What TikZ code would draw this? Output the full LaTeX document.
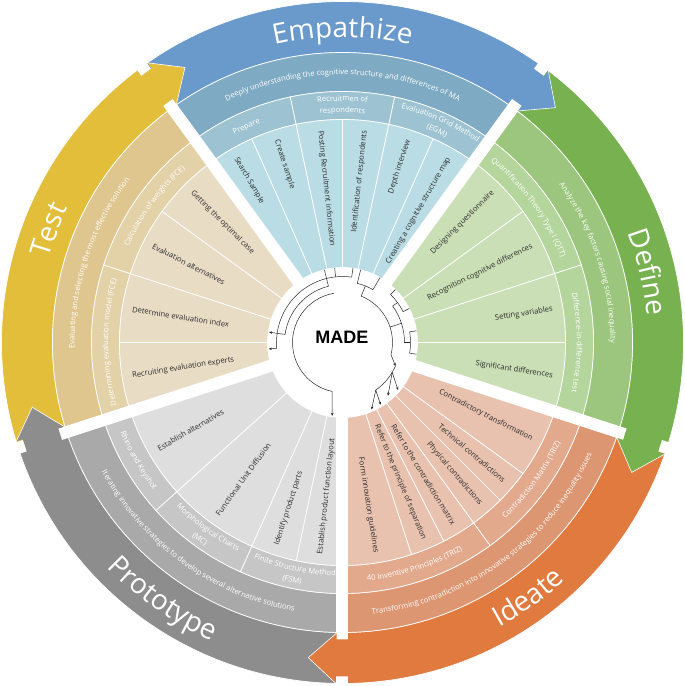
\documentclass[tikz,border=0pt]{standalone}
\usepackage{fontspec}
\setmainfont{Open Sans}
\newfontfamily\madefont{Liberation Sans}
\usetikzlibrary{decorations.text,arrows.meta}
\definecolor{E1}{HTML}{6A9ACB}\definecolor{E2}{HTML}{7EABC3}\definecolor{E3}{HTML}{9DC3D2}\definecolor{E4}{HTML}{B9DCE5}
\definecolor{D1}{HTML}{78B14F}\definecolor{D2}{HTML}{9CC67E}\definecolor{D3}{HTML}{B4D59C}\definecolor{D4}{HTML}{CADFB6}
\definecolor{I1}{HTML}{E07A3E}\definecolor{I2}{HTML}{DC9672}\definecolor{I3}{HTML}{E2A98D}\definecolor{I4}{HTML}{E8C2AF}
\definecolor{P1}{HTML}{8E8D8E}\definecolor{P2}{HTML}{AAA9AA}\definecolor{P3}{HTML}{C6C6C6}\definecolor{P4}{HTML}{DDDEDD}
\definecolor{T1}{HTML}{E3BE3B}\definecolor{T2}{HTML}{DFC68E}\definecolor{T3}{HTML}{E3D1A8}\definecolor{T4}{HTML}{E8DCC5}
\definecolor{celltxt}{HTML}{2B2B2B}
\tikzset{
  celltext/.style={font=\fontsize{7.6}{9}\selectfont, text=celltxt, inner sep=0pt},
  conn/.style={draw=black!85, line width=0.5pt},
  connarrow/.style={conn, -{Stealth[length=3pt,width=2.6pt]}},
}
\newcommand\ring[5]{\fill[#1,draw=white,line width=0.7pt] (#2:#4pt) arc[start angle=#2,end angle=#3,radius=#4pt] -- (#3:#5pt) arc[start angle=#3,end angle=#2,radius=#5pt] -- cycle;}
\newcommand\cellO[3]{\node[celltext,rotate=#1,anchor=east] (#2) at (#1:213pt) {#3};}
\newcommand\cellI[3]{\node[celltext,rotate=#1+180,anchor=west] (#2) at (#1:213pt) {#3};}
\newcommand\cwtext[5]{\path[decorate,decoration={text along path,text align=center,text={|#4|#5}}] (#1+#2:#3pt) arc[start angle=#1+#2,end angle=#1-#2,radius=#3pt];}
\newcommand\ccwtext[5]{\path[decorate,decoration={text along path,text align=center,text={|#4|#5}}] (#1-#2:#3pt) arc[start angle=#1-#2,end angle=#1+#2,radius=#3pt];}
\def\smw{\color{white}\fontsize{7.6}{9}\selectfont}
\def\bgw{\color{white}\fontsize{28}{30}\selectfont}
\newcommand\headarrow[2]{%
  \fill[#2] (#1+1.3:297pt) -- (#1-1.15:297pt) -- (#1-1.15:290.5pt) -- (#1-6.2:317pt) -- (#1-1.15:340.8pt) -- (#1-1.15:334pt) -- (#1+1.3:334pt) -- cycle;
  \draw[white,line width=0.6pt] (#1-1.15:290.5pt) -- (#1-6.2:317pt) -- (#1-1.15:340.8pt);}
\begin{document}
\begin{tikzpicture}[x=1pt,y=1pt]
\useasboundingbox (-342.5,-343.5) rectangle (342.5,342.5);
% arrow bands
\ring{E1}{126}{54}{290}{341}
\ring{D1}{54}{-18}{290}{341}
\ring{I1}{-18}{-90}{290}{341}
\ring{P1}{270}{198}{290}{341}
\ring{T1}{198}{126}{290}{341}
% description bands
\ring{E2}{126}{54}{251}{290}
\ring{D2}{54}{-18}{251}{290}
\ring{I2}{-18}{-90}{251}{290}
\ring{P2}{270}{198}{251}{290}
\ring{T2}{198}{126}{251}{290}
% method bands
\ring{E3}{126}{102}{223}{251}\ring{E3}{102}{78}{223}{251}\ring{E3}{78}{54}{223}{251}
\ring{D3}{54}{18}{223}{251}\ring{D3}{18}{-18}{223}{251}
\ring{I3}{-18}{-54}{223}{251}\ring{I3}{-54}{-90}{223}{251}
\ring{P3}{270}{246}{223}{251}\ring{P3}{246}{222}{223}{251}\ring{P3}{222}{198}{223}{251}
\ring{T3}{198}{162}{223}{251}\ring{T3}{162}{126}{223}{251}
% cells
\foreach \a/\b in {126/114,114/102,102/90,90/78,78/66,66/54}{\ring{E4}{\a}{\b}{75}{223}}
\foreach \a/\b in {54/36,36/18,18/0,0/-18}{\ring{D4}{\a}{\b}{75}{223}}
\foreach \a/\b in {-18/-36,-36/-45,-45/-54,-54/-63,-63/-72,-72/-90}{\ring{I4}{\a}{\b}{75}{223}}
\foreach \a/\b in {270/258,258/246,246/222,222/198}{\ring{P4}{\a}{\b}{75}{223}}
\foreach \a/\b in {198/180,180/162,162/144,144/126}{\ring{T4}{\a}{\b}{75}{223}}
% white gaps
\foreach \g in {126,54,-18,-90,198}{\draw[white,line width=12pt] (\g:72pt) -- (\g:345pt);}
% arrow heads
\headarrow{126}{T1}
\headarrow{54}{E1}
\headarrow{-18}{D1}
\headarrow{-90}{I1}
\headarrow{198}{P1}
% phase labels
\cwtext{90}{40}{305.5}{\bgw}{Empathize}
\cwtext{13}{40}{305.5}{\bgw}{Define}
\ccwtext{-54}{40}{325.5}{\bgw}{Ideate}
\ccwtext{235}{40}{325.5}{\bgw}{Prototype}
\cwtext{159}{40}{305.5}{\bgw}{Test}
% descriptions
\cwtext{90}{40}{267.8}{\smw}{Deeply understanding the cognitive structure and differences of MA}
\cwtext{18}{40}{267.8}{\smw}{Analyze the key factors causing social inequality}
\ccwtext{-54}{40}{273.2}{\smw}{Transforming contradiction into innovative strategies to reduce inequality issues}
\ccwtext{234}{40}{273.2}{\smw}{Iterating innovative strategies to develop several alternative solutions}
\cwtext{162}{40}{267.8}{\smw}{Evaluating and selecting the most effective solution}
% methods
\cwtext{114}{20}{234.3}{\smw}{Prepare}
\cwtext{90}{20}{241.5}{\smw}{Recruitmen of}
\cwtext{90}{20}{229.8}{\smw}{respondents}
\cwtext{66}{20}{241.5}{\smw}{Evaluation Grid Method}
\cwtext{66}{20}{229.8}{\smw}{(EGM)}
\cwtext{36}{30}{234.3}{\smw}{Quantification Theory Type I (QTT)}
\cwtext{0}{30}{234.3}{\smw}{Difference-in-difference test}
\ccwtext{-36}{30}{239.7}{\smw}{Contradiction Matrix (TRIZ)}
\ccwtext{-72}{30}{239.7}{\smw}{40 Inventive Principles (TRIZ)}
\ccwtext{258}{20}{233.3}{\smw}{Finite Structure Method}
\ccwtext{258}{20}{245.3}{\smw}{(FSM)}
\ccwtext{234}{20}{233.3}{\smw}{Morphological Charts}
\ccwtext{234}{20}{245.3}{\smw}{(MC)}
\ccwtext{210}{20}{239.7}{\smw}{Rhino and Keyshot}
\cwtext{180}{30}{234.3}{\smw}{Determining evaluation model (FCE)}
\cwtext{144}{30}{234.3}{\smw}{Calculation of weights (FCE)}
% cell texts
\cellI{120}{e1}{Search Sample}
\cellI{108}{e2}{Create sample}
\cellI{96}{e3}{Posting Recruitment information}
\cellO{84}{e4}{Identification of respondents}
\cellO{72}{e5}{Depth interview}
\cellO{60}{e6}{Creating a cognitive structure map}
\cellO{45}{d1}{Designing questionnaire}
\cellO{27}{d2}{Recognition cognitive differences}
\cellO{9}{d3}{Setting variables}
\cellO{-9}{d4}{Significant differences}
\cellO{-27}{i1}{Contradictory transformation}
\cellO{-40.5}{i2}{Technical contradictions}
\cellO{-49.5}{i3}{Physical contradictions}
\cellO{-58.5}{i4}{Refer to the contradiction matrix}
\cellO{-67.5}{i5}{Refer to the principle of separation}
\cellO{-81}{i6}{Form innovation guidelines}
\cellI{264}{p1}{Establish product function layout}
\cellI{252}{p2}{Identify product parts}
\cellI{234}{p3}{Functional Unit Diffusion}
\cellI{210}{p4}{Establish alternatives}
\cellI{189}{t1}{Recruiting evaluation experts}
\cellI{171}{t2}{Determine evaluation index}
\cellI{153}{t3}{Evaluation alternatives}
\cellI{135}{t4}{Getting the optimal case}
% centre
\node[font=\madefont\bfseries\fontsize{18}{18}\selectfont, inner sep=0pt] (made) at (-0.5,5.5) {MADE};
% Empathize brackets
\draw[conn] (104:75pt) -- (104:58pt);
\draw[conn] (96:75pt) -- (96:66pt);
\draw[conn] (112:66pt) arc[start angle=112,end angle=82,radius=66pt];
\draw[conn] (82:66pt) -- (82:75pt);
\draw[conn] (76:75pt) -- (76:61pt) arc[start angle=76,end angle=60,radius=61pt] -- (60:75pt);
\draw[conn] (68:61pt) -- (68:50pt);
% Empathize -> Test
\draw[connarrow] (104:58pt) arc[start angle=104,end angle=172,radius=58pt] -- (172:74pt);
\draw[connarrow] (112:66pt) arc[start angle=112,end angle=185,radius=66pt] -- (185:74pt);
% circle arcs
\draw[conn] (100:50pt) arc[start angle=100,end angle=258,radius=50pt];
\draw[connarrow] (258:50pt) -- (262:74pt);
\draw[conn] (68:50pt) arc[start angle=68,end angle=-14,radius=50pt];
\draw[connarrow] (-14:50pt) -- (-24:58pt);
% Define brackets
\draw[conn] (45:75pt) -- (45:68pt) arc[start angle=45,end angle=27,radius=68pt] -- (27:75pt);
\draw[conn] (36:68pt) -- (36:62pt) arc[start angle=36,end angle=0,radius=62pt];
\draw[conn] (9:75pt) -- (9:68pt) arc[start angle=9,end angle=-9,radius=68pt] -- (-9:75pt);
\draw[conn] (0:68pt) -- (0:62pt);
\draw[conn] (18:62pt) -- (18:50pt);
% Ideate arrows
\draw[conn] (-24:58pt) -- (-31:58pt);
\draw[connarrow] (-31:58pt) -- (-40.5:73pt);
\draw[connarrow] (-31:58pt) -- (-49.5:70pt);
\draw[conn] (-31:58pt) arc[start angle=-31,end angle=-55,radius=58pt];
\draw[connarrow] (-55:58pt) -- (-58.5:73pt);
\draw[connarrow] (-55:58pt) -- (-66.5:73pt);
\end{tikzpicture}
\end{document}
